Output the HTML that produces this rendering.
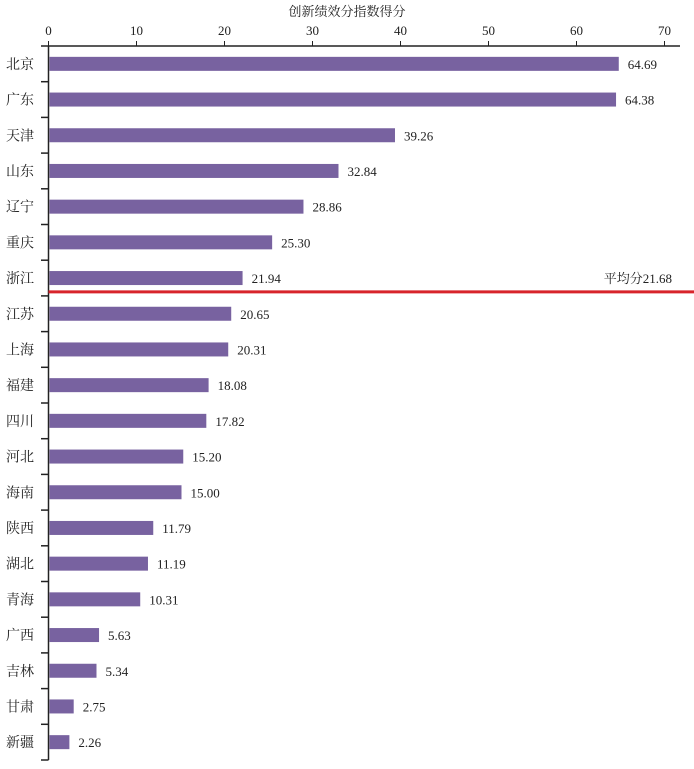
<!DOCTYPE html>
<html><head><meta charset="utf-8"><style>
body{margin:0;background:#fff;}
text{font-family:"Liberation Serif","Noto Serif CJK SC",serif;fill:#222;}
</style></head><body>
<svg id="chart" width="694" height="764"></svg>
<script>
const categories=["北京","广东","天津","山东","辽宁","重庆","浙江","江苏","上海","福建","四川","河北","海南","陕西","湖北","青海","广西","吉林","甘肃","新疆"];
const values=[64.69,64.38,39.26,32.84,28.86,25.30,21.94,20.65,20.31,18.08,17.82,15.20,15.00,11.79,11.19,10.31,5.63,5.34,2.75,2.26];
const ticks=[0,10,20,30,40,50,60,70];
const avg=21.68;
const NS="http://www.w3.org/2000/svg";
const svg=document.getElementById('chart');
const x0=48.5,xs=8.8,yTop=46,yBot=760,band=(yBot-yTop)/categories.length;
const X=v=>x0+v*xs;
const Y=i=>yTop+band*i+band/2;
function el(t,a,txt){const e=document.createElementNS(NS,t);for(const k in a)e.setAttribute(k,a[k]);if(txt!=null)e.textContent=txt;svg.appendChild(e);return e;}
let t=el('text',{x:347,y:16,'text-anchor':'middle','font-size':13},'创新绩效分指数得分');


let a=el('line',{x1:41,y1:yTop,x2:680,y2:yTop,stroke:'#222','stroke-width':1.5});


ticks.forEach(v=>{
 let l=el('line',{x1:X(v),y1:yTop,x2:X(v),y2:yTop-5,stroke:'#222'});
 
 
 let tt=el('text',{x:X(v),y:35,'text-anchor':'middle','font-size':13},v);
 
 
});
let ya=el('line',{x1:x0,y1:yTop,x2:x0,y2:yBot,stroke:'#222','stroke-width':1.5});


for(let i=1;i<=categories.length;i++){
 let l=el('line',{x1:41,y1:yTop+band*i,x2:x0,y2:yTop+band*i,stroke:'#222','stroke-width':1.5});
 
 
}
categories.forEach((c,i)=>{
 let lb=el('text',{x:20,y:Y(i)+5,'text-anchor':'middle','font-size':14,style:'font-family:"Noto Serif CJK SC",serif'},c);
 
 
 let r=el('rect',{x:x0+1,y:Y(i)-7,width:values[i]*xs,height:14,fill:'#7862a0'});
 
 
 let vl=el('text',{x:X(values[i])+10,y:Y(i)+5,'font-size':13},values[i].toFixed(2));
 
 
});
const ay=yTop+band*7-4;
let al=el('line',{x1:x0,y1:ay,x2:694,y2:ay,stroke:'#d8242b','stroke-width':3});


let at=el('text',{x:672,y:ay-9,'text-anchor':'end','font-size':13,style:'font-family:"Liberation Serif","Noto Serif CJK SC",serif'},'平均分'+avg.toFixed(2));


</script>
</body></html>
